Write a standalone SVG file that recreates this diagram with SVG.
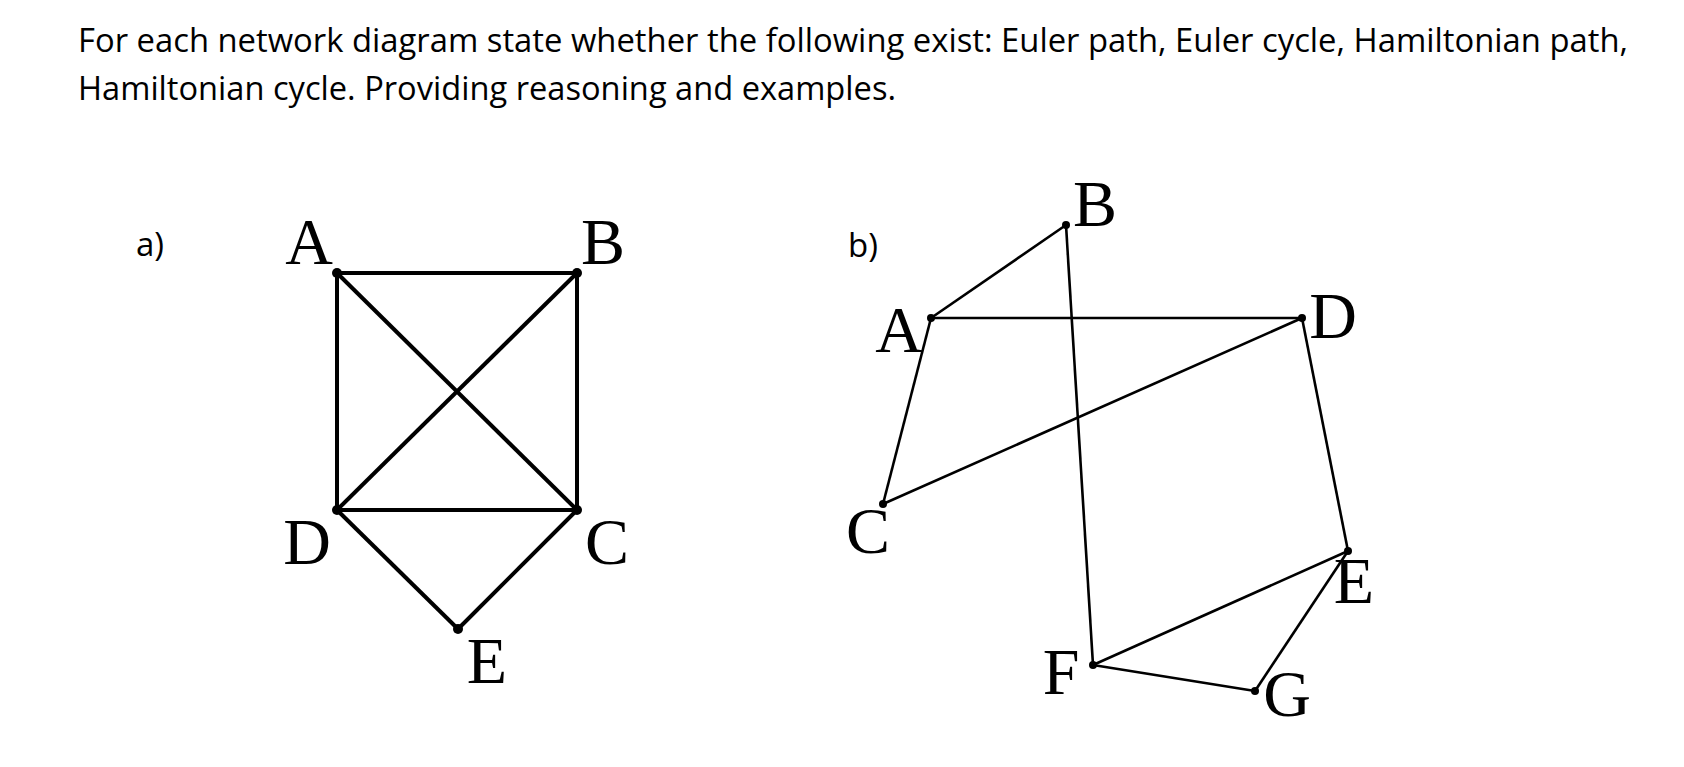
<svg xmlns="http://www.w3.org/2000/svg" width="1684" height="767" viewBox="0 0 1684 767">
<style>
.t{font-family:"Open Sans","Liberation Sans",sans-serif;font-size:33px;fill:#000}
.l{font-family:"Liberation Serif",serif;font-size:66px;fill:#000;text-anchor:middle}
.e1{stroke:#000;stroke-width:4;fill:none}
.e2{stroke:#000;stroke-width:2.6;fill:none}
</style>
<rect width="1684" height="767" fill="#fff"/>
<text class="t" x="78" y="52" textLength="1550" lengthAdjust="spacingAndGlyphs">For each network diagram state whether the following exist: Euler path, Euler cycle, Hamiltonian path,</text>
<text class="t" x="78" y="100" textLength="818" lengthAdjust="spacingAndGlyphs">Hamiltonian cycle. Providing reasoning and examples.</text>
<text class="t" x="136" y="256">a)</text>
<text class="t" x="848" y="257">b)</text>
<g id="edges-a" class="e1">
<line x1="337" y1="273" x2="577" y2="273"/>
<line x1="337" y1="273" x2="337" y2="510"/>
<line x1="577" y1="273" x2="577" y2="510"/>
<line x1="337" y1="273" x2="577" y2="510"/>
<line x1="577" y1="273" x2="337" y2="510"/>
<line x1="337" y1="510" x2="577" y2="510"/>
<line x1="337" y1="510" x2="458" y2="629"/>
<line x1="577" y1="510" x2="458" y2="629"/>
</g>
<g id="a-A"><circle cx="337" cy="273" r="5"/><text class="l" x="309" y="264">A</text></g>
<g id="a-B"><circle cx="577" cy="273" r="5"/><text class="l" x="603" y="264">B</text></g>
<g id="a-D"><circle cx="337" cy="510" r="5"/><text class="l" x="307" y="564">D</text></g>
<g id="a-C"><circle cx="577" cy="510" r="5"/><text class="l" x="607" y="564">C</text></g>
<g id="a-E"><circle cx="458" cy="629" r="5"/><text class="l" x="487" y="683">E</text></g>
<g id="edges-b" class="e2">
<line x1="931" y1="318" x2="1066" y2="225"/>
<line x1="1066" y1="225" x2="1093" y2="665"/>
<line x1="931" y1="318" x2="1302" y2="318"/>
<line x1="931" y1="318" x2="883" y2="504"/>
<line x1="883" y1="504" x2="1302" y2="318"/>
<line x1="1302" y1="318" x2="1348" y2="551"/>
<line x1="1348" y1="551" x2="1093" y2="665"/>
<line x1="1348" y1="551" x2="1255" y2="691"/>
<line x1="1093" y1="665" x2="1255" y2="691"/>
</g>
<g id="b-A"><circle cx="931" cy="318" r="4"/><text class="l" x="899" y="352">A</text></g>
<g id="b-B"><circle cx="1066" cy="225" r="4"/><text class="l" x="1095" y="226">B</text></g>
<g id="b-D"><circle cx="1302" cy="318" r="4"/><text class="l" x="1333" y="338">D</text></g>
<g id="b-C"><circle cx="883" cy="504" r="4"/><text class="l" x="868" y="553">C</text></g>
<g id="b-E"><circle cx="1348" cy="551" r="4"/><text class="l" x="1354" y="603">E</text></g>
<g id="b-F"><circle cx="1093" cy="665" r="4"/><text class="l" x="1061" y="694">F</text></g>
<g id="b-G"><circle cx="1255" cy="691" r="4"/><text class="l" x="1287" y="716">G</text></g>
</svg>
